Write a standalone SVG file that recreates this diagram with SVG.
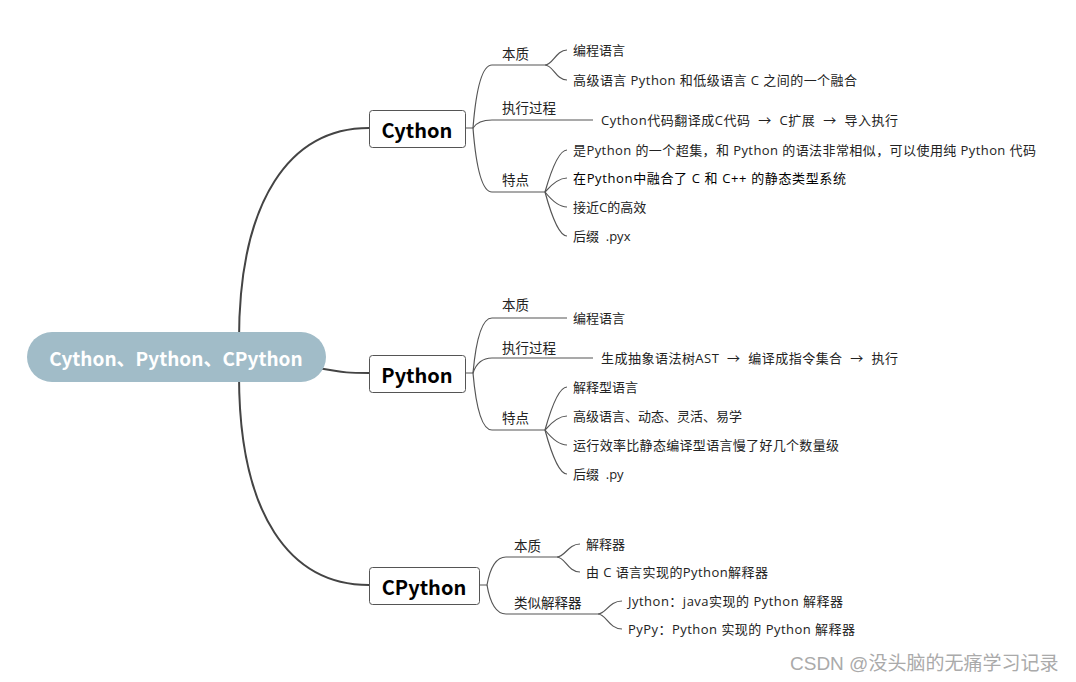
<svg xmlns="http://www.w3.org/2000/svg" width="1076" height="682" viewBox="0 0 1076 682">
<style>
.main{fill:none;stroke:#444;stroke-width:2}
.br{fill:none;stroke:#555;stroke-width:1.2}
.box{fill:#fff;stroke:#555;stroke-width:1}
.bt{font-family:"Noto Sans CJK SC","Liberation Sans",sans-serif;font-weight:bold;font-size:20px;fill:#000;text-anchor:middle;dominant-baseline:central}
.sub{font-family:"Open Sans","Noto Sans CJK SC",sans-serif;font-size:13.5px;fill:#222;dominant-baseline:central}
.leaf{font-family:"Open Sans","Noto Sans CJK SC",sans-serif;font-size:13px;fill:#222;dominant-baseline:central}
</style>
<rect width="1076" height="682" fill="#fff"/>
<g id="connectors">
<path class="main" d="M239,340 C239,200 290,128 369,128"/>
<path class="main" d="M239,375 C239,515 290,585 369,585"/>
<path class="main" d="M318,368 C345,373 350,373 369,373"/>
<!-- Cython -->
<path class="br" d="M465,128 H473 Q478,65 492,65 H545"/>
<path class="br" d="M473,128 Q478,120 492,120 H593"/>
<path class="br" d="M473,128 Q478,192 492,192 H545"/>
<path class="br" d="M545,65 C553,65 556,50 567,50"/>
<path class="br" d="M545,65 C553,65 556,80 567,80"/>
<path class="br" d="M545,192 Q557,150 567,150"/>
<path class="br" d="M545,192 Q557,178 567,178"/>
<path class="br" d="M545,192 Q557,207 567,207"/>
<path class="br" d="M545,192 Q557,236 567,236"/>
<!-- Python -->
<path class="br" d="M465,373 H473 Q478,318 492,318 H567"/>
<path class="br" d="M473,373 Q478,358 492,358 H593"/>
<path class="br" d="M473,373 Q478,430 492,430 H545"/>
<path class="br" d="M545,430 Q557,387 567,387"/>
<path class="br" d="M545,430 Q557,416 567,416"/>
<path class="br" d="M545,430 Q557,445 567,445"/>
<path class="br" d="M545,430 Q557,474 567,474"/>
<!-- CPython -->
<path class="br" d="M479,585 H487 Q492,557 506,557 H557"/>
<path class="br" d="M487,585 Q492,614 506,614 H598"/>
<path class="br" d="M557,557 C565,557 568,544 580,544"/>
<path class="br" d="M557,557 C565,557 568,572 580,572"/>
<path class="br" d="M598,614 C606,614 609,601 622,601"/>
<path class="br" d="M598,614 C606,614 609,629 622,629"/>
</g>
<g id="root">
<rect x="27" y="332" width="299" height="50" rx="25" fill="#a1bcc8"/>
<text x="176" y="357" class="bt" style="fill:#fff;font-size:19px">Cython、Python、CPython</text>
</g>
<g id="cython">
<rect class="box" x="369.5" y="110.5" width="96" height="37" rx="3"/>
<text class="bt" x="417" y="129">Cython</text>
</g>
<g id="cython-sub">
<text class="sub" x="502" y="54">本质</text>
<text class="sub" x="502" y="108">执行过程</text>
<text class="sub" x="502" y="180">特点</text>
</g>
<g id="cython-leaves">
<text class="leaf" x="573" y="50">编程语言</text>
<text class="leaf" x="573" y="80" textLength="284" lengthAdjust="spacing">高级语言 Python 和低级语言 C 之间的一个融合</text>
<text class="leaf" x="601" y="120" textLength="297" lengthAdjust="spacing">Cython代码翻译成C代码 &#160;→ &#160;C扩展 &#160;→ &#160;导入执行</text>
<text class="leaf" x="573" y="150" textLength="463" lengthAdjust="spacing">是Python 的一个超集，和 Python 的语法非常相似，可以使用纯 Python 代码</text>
<text class="leaf" x="573" y="178" style="fill:#000" textLength="273" lengthAdjust="spacing">在Python中融合了 C 和 C++ 的静态类型系统</text>
<text class="leaf" x="573" y="207">接近C的高效</text>
<text class="leaf" x="573" y="236">后缀 &#160;.pyx</text>
</g>
<g id="python">
<rect class="box" x="369.5" y="355.5" width="96" height="37" rx="3"/>
<text class="bt" x="417" y="374">Python</text>
</g>
<g id="python-sub">
<text class="sub" x="502" y="305">本质</text>
<text class="sub" x="502" y="348">执行过程</text>
<text class="sub" x="502" y="418">特点</text>
</g>
<g id="python-leaves">
<text class="leaf" x="573" y="318">编程语言</text>
<text class="leaf" x="601" y="358" textLength="297" lengthAdjust="spacing">生成抽象语法树AST &#160;→ &#160;编译成指令集合 &#160;→ &#160;执行</text>
<text class="leaf" x="573" y="387">解释型语言</text>
<text class="leaf" x="573" y="416">高级语言、动态、灵活、易学</text>
<text class="leaf" x="573" y="445" textLength="266" lengthAdjust="spacing">运行效率比静态编译型语言慢了好几个数量级</text>
<text class="leaf" x="573" y="474">后缀 &#160;.py</text>
</g>
<g id="cpython">
<rect class="box" x="369.5" y="567.5" width="110" height="37" rx="3"/>
<text class="bt" x="424" y="586">CPython</text>
</g>
<g id="cpython-sub">
<text class="sub" x="514" y="546">本质</text>
<text class="sub" x="514" y="603">类似解释器</text>
</g>
<g id="cpython-leaves">
<text class="leaf" x="586" y="544">解释器</text>
<text class="leaf" x="586" y="572" textLength="182" lengthAdjust="spacing">由 C 语言实现的Python解释器</text>
<text class="leaf" x="628" y="601" textLength="215" lengthAdjust="spacing">Jython：java实现的 Python 解释器</text>
<text class="leaf" x="628" y="629" textLength="227" lengthAdjust="spacing">PyPy：Python 实现的 Python 解释器</text>
</g>
<text x="790" y="663" style="font-family:'Liberation Sans','Noto Sans CJK SC',sans-serif;font-size:19px;fill:#aaa;dominant-baseline:central">CSDN @没头脑的无痛学习记录</text>
</svg>
